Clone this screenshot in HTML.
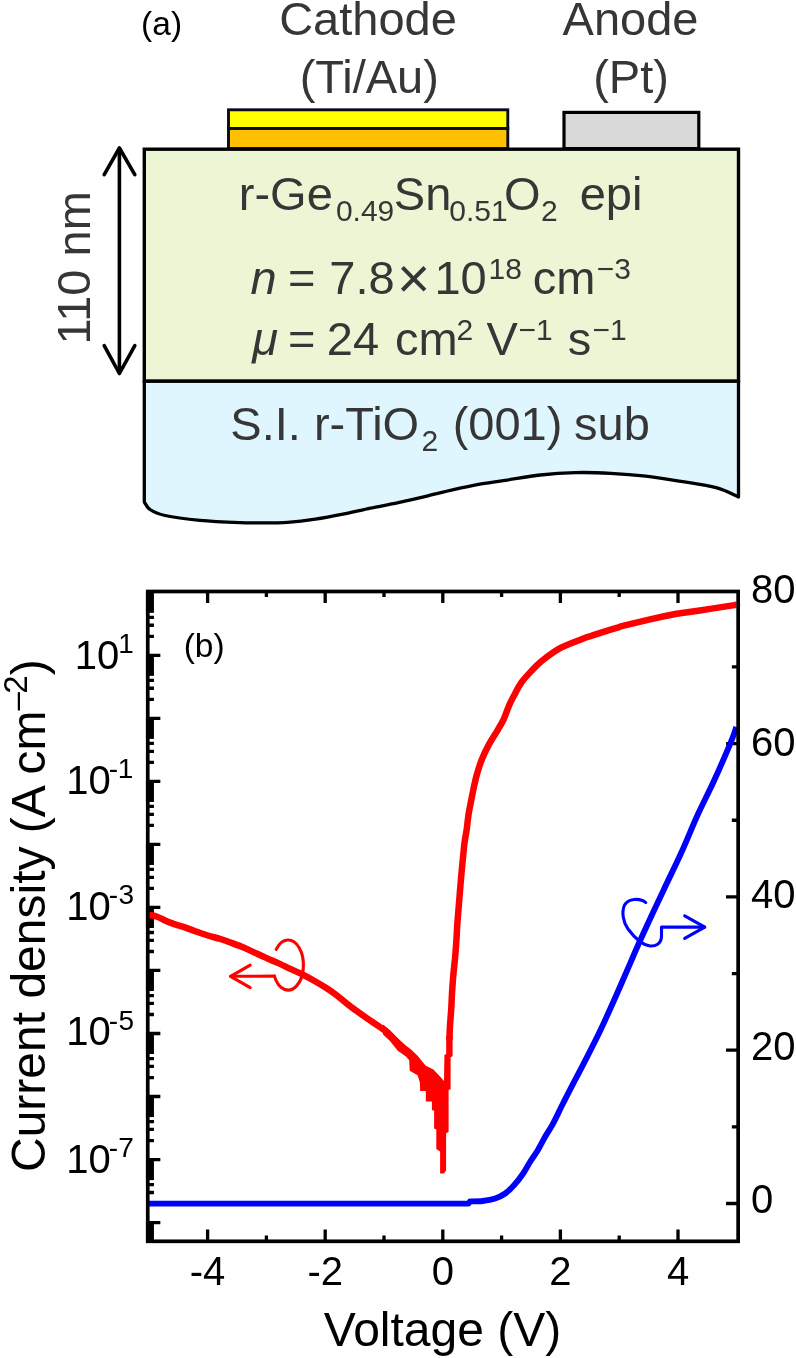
<!DOCTYPE html>
<html><head><meta charset="utf-8"><title>Figure</title>
<style>html,body{margin:0;padding:0;background:#fff;} body{width:796px;height:1358px;overflow:hidden;} svg{display:block;}</style>
</head><body>
<svg width="796" height="1358" viewBox="0 0 796 1358" font-family="'Liberation Sans', Arial, sans-serif" fill="#000"><text fill="#000" x="141.1" y="35.2" font-size="33.5">(a)</text>
<text fill="#363636" x="368" y="35.3" font-size="47" text-anchor="middle">Cathode</text>
<text fill="#363636" x="369.3" y="93.1" font-size="47" text-anchor="middle">(Ti/Au)</text>
<text fill="#363636" x="630.5" y="35.3" font-size="47" text-anchor="middle">Anode</text>
<text fill="#363636" x="631" y="93.1" font-size="47" text-anchor="middle">(Pt)</text>
<rect x="228.5" y="109.8" width="279.3" height="18.7" fill="#FFFF00" stroke="#0a0a1e" stroke-width="2.9"/>
<rect x="228.5" y="128.5" width="279.3" height="20.1" fill="#FFC000" stroke="#0a0a1e" stroke-width="2.9"/>
<rect x="564" y="112.4" width="134.8" height="36.2" fill="#D9D9D9" stroke="#000" stroke-width="3.2"/>
<path d="M144.3,381 L738.5,381 L738.5,497 C734.8,495.4 725.8,490.3 716.2,487.7 C706.6,485.1 692.7,483.3 681,481.4 C669.3,479.5 657.6,477.5 645.9,476.1 C634.2,474.8 622.4,473.9 610.7,473.3 C599.0,472.7 587.2,472.3 575.5,472.6 C563.8,472.9 552.0,473.7 540.3,475 C528.6,476.3 515.5,478.8 505.2,480.3 C494.9,481.9 487.0,482.8 478.4,484.3 C469.8,485.9 462.3,487.6 453.5,489.6 C444.7,491.6 435.0,494.1 425.8,496.3 C416.6,498.5 407.4,500.6 398.2,502.6 C389.0,504.6 379.8,506.2 370.6,508.1 C361.4,510.0 352.1,512.4 342.9,514.2 C333.7,516.1 324.5,517.9 315.3,519.2 C306.1,520.6 296.8,521.7 287.6,522.3 C278.4,522.9 267.9,522.8 260,522.8 C252.1,522.8 250.0,523.0 240,522.6 C230.0,522.2 212.5,521.5 200,520.3 C187.5,519.1 173.3,517.3 165,515.5 C156.7,513.7 153.4,511.8 150,509.5 C146.6,507.2 145.2,503.2 144.3,502 Z" fill="#DFF6FF" stroke="#000" stroke-width="3.3" stroke-linejoin="round"/>
<rect x="144.3" y="149.2" width="594.2" height="231.8" fill="#EDF6D4" stroke="#000" stroke-width="3.4"/>
<g stroke="#000" stroke-width="3.6" fill="none" stroke-linecap="round" stroke-linejoin="round"><line x1="119.4" y1="149" x2="119.4" y2="373"/><polyline points="104.2,174.6 119.4,148 134.8,174.6"/><polyline points="104.2,345.6 119.4,373.5 134.8,345.6"/></g>
<text fill="#363636" transform="translate(89.7,344.5) rotate(-90)" x="0" y="0" font-size="47">110 nm</text>
<text fill="#363636"><tspan x="238.8" y="210.3" font-size="47">r-Ge</tspan><tspan x="335.9" y="220.6" font-size="30">0.49</tspan><tspan x="393.8" y="210.3" font-size="47">Sn</tspan><tspan x="449.3" y="220.6" font-size="30">0.51</tspan><tspan x="504.1" y="210.3" font-size="47">O</tspan><tspan x="541.0" y="220.6" font-size="30">2</tspan><tspan x="579.7" y="210.3" font-size="47">epi</tspan></text>
<text fill="#363636"><tspan x="250.5" y="294.0" font-size="47" font-style="italic">n</tspan><tspan x="288.0" y="294.0" font-size="47">=</tspan><tspan x="329.3" y="294.0" font-size="47">7.8</tspan><tspan x="397.1" y="297.5" font-size="57">×</tspan><tspan x="434.4" y="294.0" font-size="47">10</tspan><tspan x="488.5" y="278.8" font-size="30">18</tspan><tspan x="532.7" y="294.0" font-size="47">cm</tspan><tspan x="596.8" y="278.8" font-size="30">−3</tspan></text>
<text fill="#363636"><tspan x="252.3" y="354.8" font-size="47" font-style="italic">μ</tspan><tspan x="288.0" y="354.8" font-size="47">=</tspan><tspan x="326.8" y="354.8" font-size="47">24</tspan><tspan x="394.9" y="354.8" font-size="47">cm</tspan><tspan x="456.6" y="340.0" font-size="30">2</tspan><tspan x="486.5" y="354.8" font-size="47">V</tspan><tspan x="518.4" y="340.0" font-size="30">−1</tspan><tspan x="567.7" y="354.8" font-size="47">s</tspan><tspan x="592.5" y="340.0" font-size="30">−1</tspan></text>
<text fill="#363636"><tspan x="230.3" y="440.2" font-size="47">S.I. r-TiO</tspan><tspan x="421.5" y="450.5" font-size="30">2</tspan><tspan x="452.7" y="440.2" font-size="47">(001)</tspan><tspan x="574.0" y="440.2" font-size="47">sub</tspan></text>
<rect x="145.95" y="1222.57" width="8.00" height="18.73" fill="#000"/><rect x="145.95" y="1159.54" width="8.00" height="20.57" fill="#000"/><rect x="145.95" y="1096.51" width="8.00" height="20.57" fill="#000"/><rect x="145.95" y="1033.48" width="8.00" height="20.57" fill="#000"/><rect x="145.95" y="970.45" width="8.00" height="20.57" fill="#000"/><rect x="145.95" y="907.42" width="8.00" height="20.57" fill="#000"/><rect x="145.95" y="844.39" width="8.00" height="20.57" fill="#000"/><rect x="145.95" y="781.36" width="8.00" height="20.57" fill="#000"/><rect x="145.95" y="718.33" width="8.00" height="20.57" fill="#000"/><rect x="145.95" y="655.30" width="8.00" height="20.57" fill="#000"/><rect x="145.95" y="592.27" width="8.00" height="20.57" fill="#000"/>
<path d="M147.75,1222.57H160.35000000000002 M147.75,1203.60H153.95000000000002 M147.75,1192.50H153.95000000000002 M147.75,1184.62H153.95000000000002 M147.75,1159.54H160.35000000000002 M147.75,1140.57H153.95000000000002 M147.75,1129.47H153.95000000000002 M147.75,1121.59H153.95000000000002 M147.75,1096.51H160.35000000000002 M147.75,1077.54H153.95000000000002 M147.75,1066.44H153.95000000000002 M147.75,1058.56H153.95000000000002 M147.75,1033.48H160.35000000000002 M147.75,1014.51H153.95000000000002 M147.75,1003.41H153.95000000000002 M147.75,995.53H153.95000000000002 M147.75,970.45H160.35000000000002 M147.75,951.48H153.95000000000002 M147.75,940.38H153.95000000000002 M147.75,932.50H153.95000000000002 M147.75,907.42H160.35000000000002 M147.75,888.45H153.95000000000002 M147.75,877.35H153.95000000000002 M147.75,869.47H153.95000000000002 M147.75,844.39H160.35000000000002 M147.75,825.42H153.95000000000002 M147.75,814.32H153.95000000000002 M147.75,806.44H153.95000000000002 M147.75,781.36H160.35000000000002 M147.75,762.39H153.95000000000002 M147.75,751.29H153.95000000000002 M147.75,743.41H153.95000000000002 M147.75,718.33H160.35000000000002 M147.75,699.36H153.95000000000002 M147.75,688.26H153.95000000000002 M147.75,680.38H153.95000000000002 M147.75,655.30H160.35000000000002 M147.75,636.33H153.95000000000002 M147.75,625.23H153.95000000000002 M147.75,617.35H153.95000000000002 M738.15,1203.50H726.0500000000001 M738.15,1126.85H731.85 M738.15,1050.20H726.0500000000001 M738.15,973.55H731.85 M738.15,896.90H726.0500000000001 M738.15,820.25H731.85 M738.15,743.60H726.0500000000001 M738.15,666.95H731.85 M207.60,1241.3V1229.5 M207.60,591.5V603.0 M266.40,1241.3V1235.5 M266.40,591.5V597.0 M325.20,1241.3V1229.5 M325.20,591.5V603.0 M384.00,1241.3V1235.5 M384.00,591.5V597.0 M442.80,1241.3V1229.5 M442.80,591.5V603.0 M501.60,1241.3V1235.5 M501.60,591.5V597.0 M560.40,1241.3V1229.5 M560.40,591.5V603.0 M619.20,1241.3V1235.5 M619.20,591.5V597.0 M678.00,1241.3V1229.5 M678.00,591.5V603.0" stroke="#000" stroke-width="3.3" fill="none"/>
<g fill="none" stroke="#ff0000" stroke-width="3.1" stroke-linecap="round" stroke-linejoin="round"><path d="M274.4,976.1 A15.3,25 0 1 0 276.2,949.4"/><path d="M274.4,976.1 L230.8,976.3"/><path d="M250.2,965.2 L230.5,976.3 L250.2,987.6"/></g>
<g fill="none" stroke="#0000ff" stroke-width="3.1" stroke-linecap="round" stroke-linejoin="round"><path d="M704.5,927.1 L661.5,927.1 L661.5,936 C661.5,944 655,946.5 650,946 C642,945 634,937 628,929 C623,922 621.5,912 624.5,905 C628,898.5 640,897.5 645.8,902.6"/><path d="M684.7,915.8 L704.8,927.1 L684.7,938.4"/></g>
<path d="M148,1203.6 L468.5,1203.6 L470,1201.4 C472.1,1201.3 478.4,1201.5 482.6,1201 C486.8,1200.5 491.3,1199.8 495.1,1198.5 C498.9,1197.2 502.1,1195.7 505.2,1193.5 C508.3,1191.3 511.1,1188.5 514,1185.3 C516.9,1182.0 520.1,1178.0 522.8,1174 C525.5,1170.0 527.8,1165.5 530.3,1161.5 C532.8,1157.5 535.3,1154.4 537.8,1150.2 C540.3,1146.0 542.9,1140.7 545.4,1136.3 C547.9,1131.9 550.0,1129.1 552.9,1123.8 C555.8,1118.5 559.6,1110.2 562.5,1104.5 C565.4,1098.8 566.4,1096.6 570.2,1089.3 C574.0,1082.0 580.2,1070.4 585.2,1060.6 C590.2,1050.8 595.3,1041.0 600.3,1030.5 C605.3,1020.0 610.4,1008.6 615.4,997.3 C620.4,986.0 626.9,970.8 630.5,962.6 C634.1,954.4 633.5,955.3 636.8,948 C640.0,940.7 645.5,928.8 650,919 C654.5,909.2 658.8,900.3 663.9,889.4 C669.0,878.5 675.2,866.2 680.8,853.8 C686.4,841.4 692.1,827.2 697.7,814.8 C703.4,802.4 709.1,791.7 714.7,779.3 C720.4,766.9 728.0,749.0 731.6,740.3 C735.2,731.6 735.5,729.2 736.3,727" fill="none" stroke="#0000ff" stroke-width="5.9" stroke-linejoin="round"/>
<path d="M148,915.5 C149.2,915.6 151.4,914.8 155.1,916 C158.8,917.2 165.5,920.8 170.1,922.6 C174.7,924.4 178.5,925.3 182.7,926.7 C186.9,928.1 191.1,929.7 195.3,931.2 C199.5,932.7 203.6,934.2 207.8,935.5 C212.0,936.8 216.2,937.7 220.4,939 C224.6,940.3 228.9,941.9 232.9,943.4 C236.9,944.9 240.9,946.4 244.2,947.8 C247.5,949.2 249.1,950.0 252.6,951.6 C256.1,953.2 260.9,955.5 265.1,957.4 C269.3,959.3 273.5,961.0 277.7,962.9 C281.9,964.8 286.1,966.9 290.3,968.9 C294.5,970.9 298.6,972.5 302.8,974.6 C307.0,976.7 311.2,979.1 315.4,981.5 C319.6,983.9 324.0,986.5 327.9,989 C331.8,991.5 334.4,993.6 338.5,996.8 C342.6,1000.0 347.9,1004.5 352.8,1008.2 C357.7,1011.9 362.8,1015.3 367.8,1018.8 C372.8,1022.2 379.4,1026.6 382.6,1028.9 C385.8,1031.2 386.3,1031.9 387,1032.5" fill="none" stroke="#ff0000" stroke-width="6.5" stroke-linejoin="round"/>
<polygon points="383,1024.5 390.1,1030.3 397.7,1037.9 405.2,1045 411.4,1049.7 417.6,1055.8 425.5,1065.5 433.4,1069.5 439.6,1076.1 444,1080.9 444.4,1055 446.2,1054.1 446.2,1036 452.6,1036 452.6,1056.3 450.6,1057.2 450.6,1089.3 448.6,1090.1 448.6,1132 446.1,1133.3 446.1,1170.4 443.9,1173.5 440.1,1173.5 440.1,1151.5 436.3,1149 436.3,1129.5 434.1,1128.6 434.1,1110.7 431.9,1110 431.9,1101.6 425.8,1101.4 425.8,1091 420.2,1091 419.8,1082.2 417.6,1075.2 409.7,1070.8 409.2,1060.2 406.2,1056.7 400,1052.3 397.7,1050.7 390,1041 383,1034.5" fill="#ff0000"/>
<path d="M449.4,1040 C449.5,1037.9 449.6,1032.3 449.9,1027.2 C450.2,1022.1 450.8,1015.4 451.2,1009.5 C451.6,1003.6 451.7,997.7 452.1,991.8 C452.5,985.9 452.9,980.1 453.4,974.2 C453.9,968.3 454.7,962.4 455.2,956.5 C455.7,950.6 456.1,944.6 456.5,938.8 C456.9,933.0 457.0,928.1 457.5,921.6 C458.0,915.1 458.7,906.9 459.3,899.5 C459.9,892.1 460.5,884.0 461.1,877.4 C461.7,870.8 462.2,865.7 462.8,859.8 C463.4,853.9 463.9,847.3 464.6,842.1 C465.3,836.9 466.2,833.2 466.8,828.8 C467.4,824.3 467.7,820.1 468.4,815.4 C469.1,810.7 470.4,804.6 471.2,800.4 C472.0,796.2 472.5,793.6 473.2,790.3 C473.9,786.9 474.8,783.0 475.4,780.3 C476.0,777.5 476.1,777.1 477.1,773.8 C478.1,770.4 479.6,765.0 481.5,760.2 C483.4,755.4 485.9,750.1 488.6,745.1 C491.3,740.1 495.1,734.5 497.7,730.1 C500.2,725.7 502.0,722.9 503.9,718.8 C505.8,714.6 507.4,709.4 509.2,705.2 C511.0,701.1 512.9,697.7 514.9,693.9 C516.9,690.1 518.6,686.4 521.3,682.6 C524.0,678.8 527.6,675.0 531.1,671.3 C534.6,667.6 537.5,664.5 542.3,660.6 C547.1,656.8 553.4,651.8 560.1,648.2 C566.9,644.6 577.5,640.9 582.8,638.8 C588.1,636.7 588.2,637.0 591.9,635.7 C595.6,634.5 600.7,632.7 605.1,631.3 C609.5,629.9 615.2,628.2 618.3,627.3 C621.4,626.3 618.5,626.9 623.8,625.6 C629.1,624.3 641.3,621.4 650.1,619.4 C658.9,617.4 670.9,614.9 676.5,613.8 C682.1,612.7 678.2,613.6 683.8,612.8 C689.4,612.0 701.7,610.2 710.1,608.9 C718.5,607.6 729.9,605.8 734.3,605.1 C738.7,604.4 736.1,604.8 736.5,604.8" fill="none" stroke="#ff0000" stroke-width="6.5" stroke-linejoin="round"/>
<rect x="147.75" y="591.5" width="590.40" height="649.80" fill="none" stroke="#000" stroke-width="3.7"/>
<text x="74.85" y="668.6" font-size="40">10<tspan x="118.33" y="652.8" font-size="28">1</tspan></text>
<text x="66.15" y="793.8" font-size="40">10<tspan x="108.86" y="778.0" font-size="28">-</tspan><tspan x="117.83" y="778.0" font-size="28">1</tspan></text>
<text x="66.15" y="919.8" font-size="40">10<tspan x="108.86" y="904.0" font-size="28">-</tspan><tspan x="118.45" y="904.0" font-size="28">3</tspan></text>
<text x="66.15" y="1045.4" font-size="40">10<tspan x="108.86" y="1029.6" font-size="28">-</tspan><tspan x="118.39" y="1029.6" font-size="28">5</tspan></text>
<text x="66.15" y="1172.9" font-size="40">10<tspan x="108.86" y="1157.1" font-size="28">-</tspan><tspan x="118.35" y="1157.1" font-size="28">7</tspan></text>
<text x="751" y="1212.8" font-size="40">0</text>
<text x="751" y="1060.4" font-size="40">20</text>
<text x="751" y="908.0" font-size="40">40</text>
<text x="751" y="755.6" font-size="40">60</text>
<text x="751" y="603.2" font-size="40">80</text>
<text x="207.6" y="1284.7" font-size="40" text-anchor="middle">-4</text>
<text x="325.2" y="1284.7" font-size="40" text-anchor="middle">-2</text>
<text x="442.8" y="1284.7" font-size="40" text-anchor="middle">0</text>
<text x="560.4" y="1284.7" font-size="40" text-anchor="middle">2</text>
<text x="678.0" y="1284.7" font-size="40" text-anchor="middle">4</text>
<text x="442.5" y="1346" font-size="48" text-anchor="middle">Voltage (V)</text>
<text transform="translate(45,1172) rotate(-90)" font-size="48">Current density (A cm<tspan font-size="33" dy="-18.2">–</tspan><tspan font-size="33" dx="-1.5">2</tspan><tspan dy="18.2">)</tspan></text>
<text x="183.7" y="657" font-size="33.5">(b)</text></svg>
</body></html>
